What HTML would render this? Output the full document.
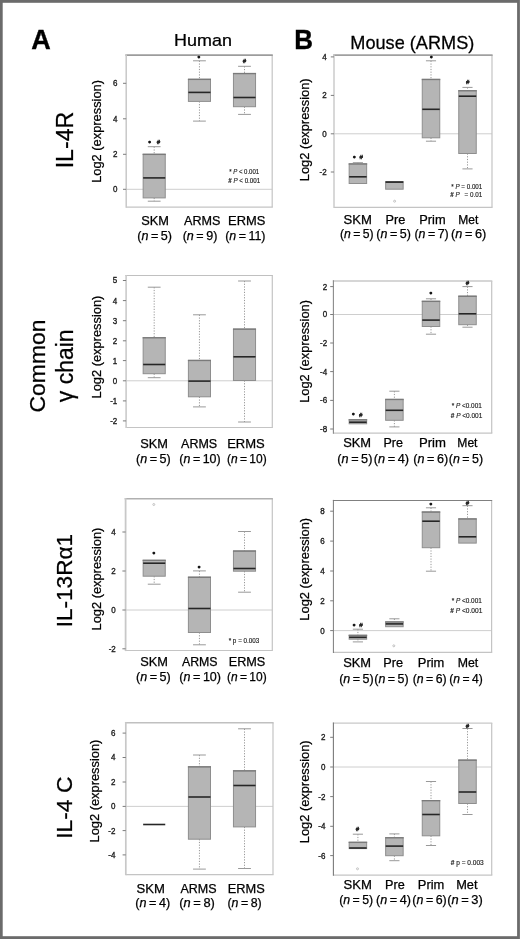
<!DOCTYPE html>
<html><head><meta charset="utf-8"><title>Figure</title>
<style>html,body{margin:0;padding:0;background:#fff;}svg{display:block;}</style>
</head><body>
<svg width="520" height="939" viewBox="0 0 520 939" font-family='"Liberation Sans", Arial, sans-serif'>
<rect x="0" y="0" width="520" height="939" fill="#fff"/>
<line x1="126.2" y1="189.3" x2="272.2" y2="189.3" stroke="#c8c8c8" stroke-width="0.9"/>
<line x1="272.2" y1="55.1" x2="272.2" y2="207.2" stroke="#c4c4c4" stroke-width="1.2"/>
<line x1="126.2" y1="207.2" x2="272.8" y2="207.2" stroke="#c4c4c4" stroke-width="1.2"/>
<line x1="125.45" y1="55.1" x2="272.8" y2="55.1" stroke="#9c9c9c" stroke-width="1.7"/>
<line x1="126.2" y1="54.25" x2="126.2" y2="207.79999999999998" stroke="#c8c8c8" stroke-width="1.5"/>
<line x1="123.0" y1="83.3" x2="126.2" y2="83.3" stroke="#7c7c7c" stroke-width="1.0"/>
<text transform="translate(117.4,86.20) scale(1,1.12)" font-size="8.0" text-anchor="end" fill="#1a1a1a" stroke="#1a1a1a" stroke-width="0.32">6</text>
<line x1="123.0" y1="118.8" x2="126.2" y2="118.8" stroke="#7c7c7c" stroke-width="1.0"/>
<text transform="translate(117.4,121.70) scale(1,1.12)" font-size="8.0" text-anchor="end" fill="#1a1a1a" stroke="#1a1a1a" stroke-width="0.32">4</text>
<line x1="123.0" y1="154.3" x2="126.2" y2="154.3" stroke="#7c7c7c" stroke-width="1.0"/>
<text transform="translate(117.4,157.20) scale(1,1.12)" font-size="8.0" text-anchor="end" fill="#1a1a1a" stroke="#1a1a1a" stroke-width="0.32">2</text>
<line x1="123.0" y1="189.3" x2="126.2" y2="189.3" stroke="#7c7c7c" stroke-width="1.0"/>
<text transform="translate(117.4,192.20) scale(1,1.12)" font-size="8.0" text-anchor="end" fill="#1a1a1a" stroke="#1a1a1a" stroke-width="0.32">0</text>
<line x1="154.2" y1="146.7" x2="154.2" y2="154.2" stroke="#8c8c8c" stroke-width="0.9" stroke-dasharray="1.2 1.5"/>
<line x1="147.791" y1="146.7" x2="160.60899999999998" y2="146.7" stroke="#999" stroke-width="1.0"/>
<line x1="154.2" y1="197.9" x2="154.2" y2="201.2" stroke="#8c8c8c" stroke-width="0.9" stroke-dasharray="1.2 1.5"/>
<line x1="147.791" y1="201.2" x2="160.60899999999998" y2="201.2" stroke="#999" stroke-width="1.0"/>
<rect x="143.14999999999998" y="154.2" width="22.1" height="43.70000000000002" fill="#b5b5b5" stroke="#8e8e8e" stroke-width="1"/>
<line x1="142.64999999999998" y1="154.39999999999998" x2="165.74999999999997" y2="154.39999999999998" stroke="#7a7a7a" stroke-width="1.3"/>
<line x1="143.14999999999998" y1="177.9" x2="165.24999999999997" y2="177.9" stroke="#262626" stroke-width="1.6"/>
<text x="149.6" y="144.89999999999998" font-size="5.6" text-anchor="middle" font-weight="bold" fill="#111" stroke="#111" stroke-width="0.7">*</text>
<text x="158.5" y="144.2" font-size="6.2" text-anchor="middle" font-weight="bold" fill="#222" stroke="#222" stroke-width="0.35">#</text>
<line x1="199.45" y1="60.8" x2="199.45" y2="79.2" stroke="#8c8c8c" stroke-width="0.9" stroke-dasharray="1.2 1.5"/>
<line x1="193.041" y1="60.8" x2="205.85899999999998" y2="60.8" stroke="#999" stroke-width="1.0"/>
<line x1="199.45" y1="101.4" x2="199.45" y2="121.1" stroke="#8c8c8c" stroke-width="0.9" stroke-dasharray="1.2 1.5"/>
<line x1="193.041" y1="121.1" x2="205.85899999999998" y2="121.1" stroke="#999" stroke-width="1.0"/>
<rect x="188.39999999999998" y="79.2" width="22.1" height="22.200000000000003" fill="#b5b5b5" stroke="#8e8e8e" stroke-width="1"/>
<line x1="187.89999999999998" y1="79.4" x2="210.99999999999997" y2="79.4" stroke="#7a7a7a" stroke-width="1.3"/>
<line x1="188.39999999999998" y1="92.4" x2="210.49999999999997" y2="92.4" stroke="#262626" stroke-width="1.6"/>
<text x="198.9" y="60.300000000000004" font-size="5.6" text-anchor="middle" font-weight="bold" fill="#111" stroke="#111" stroke-width="0.7">*</text>
<line x1="244.5" y1="66.3" x2="244.5" y2="73.4" stroke="#8c8c8c" stroke-width="0.9" stroke-dasharray="1.2 1.5"/>
<line x1="238.091" y1="66.3" x2="250.909" y2="66.3" stroke="#999" stroke-width="1.0"/>
<line x1="244.5" y1="106.7" x2="244.5" y2="114.4" stroke="#8c8c8c" stroke-width="0.9" stroke-dasharray="1.2 1.5"/>
<line x1="238.091" y1="114.4" x2="250.909" y2="114.4" stroke="#999" stroke-width="1.0"/>
<rect x="233.45" y="73.4" width="22.1" height="33.3" fill="#b5b5b5" stroke="#8e8e8e" stroke-width="1"/>
<line x1="232.95" y1="73.60000000000001" x2="256.04999999999995" y2="73.60000000000001" stroke="#7a7a7a" stroke-width="1.3"/>
<line x1="233.45" y1="97.5" x2="255.54999999999998" y2="97.5" stroke="#262626" stroke-width="1.6"/>
<text x="244.4" y="63.1" font-size="6.2" text-anchor="middle" font-weight="bold" fill="#222" stroke="#222" stroke-width="0.35">#</text>
<text x="141.16" y="224.8" font-size="12.4" textLength="27.73" lengthAdjust="spacingAndGlyphs" stroke="#000" stroke-width="0.25">SKM</text>
<text x="184.10" y="224.8" font-size="12.4" textLength="36.42" lengthAdjust="spacingAndGlyphs" stroke="#000" stroke-width="0.25">ARMS</text>
<text x="228.07" y="224.8" font-size="12.4" textLength="37.27" lengthAdjust="spacingAndGlyphs" stroke="#000" stroke-width="0.25">ERMS</text>
<text x="137.25" y="240.10000000000002" font-size="12.4" textLength="34.75" lengthAdjust="spacingAndGlyphs" stroke="#000" stroke-width="0.25">(<tspan font-style="italic">n</tspan> = 5)</text>
<text x="182.65" y="240.10000000000002" font-size="12.4" textLength="34.75" lengthAdjust="spacingAndGlyphs" stroke="#000" stroke-width="0.25">(<tspan font-style="italic">n</tspan> = 9)</text>
<text x="225.15" y="240.10000000000002" font-size="12.4" textLength="40.35" lengthAdjust="spacingAndGlyphs" stroke="#000" stroke-width="0.25">(<tspan font-style="italic">n</tspan> = 11)</text>
<text x="229.18" y="173.6" font-size="6.4" textLength="30.00" lengthAdjust="spacingAndGlyphs" fill="#222" stroke="#222" stroke-width="0.15">* <tspan font-style="italic">P</tspan> &lt; 0.001</text>
<text x="228.18" y="182.6" font-size="6.4" textLength="32.06" lengthAdjust="spacingAndGlyphs" fill="#222" stroke="#222" stroke-width="0.15"><tspan font-weight="bold">#</tspan> <tspan font-style="italic">P</tspan> &lt; 0.001</text>
<line x1="334.0" y1="133.8" x2="492.0" y2="133.8" stroke="#c8c8c8" stroke-width="0.9"/>
<line x1="492.0" y1="55.1" x2="492.0" y2="207.3" stroke="#c4c4c4" stroke-width="1.2"/>
<line x1="334.0" y1="207.3" x2="492.6" y2="207.3" stroke="#c4c4c4" stroke-width="1.2"/>
<line x1="333.3" y1="55.1" x2="492.6" y2="55.1" stroke="#a0a0a0" stroke-width="1.7"/>
<line x1="334.0" y1="54.25" x2="334.0" y2="207.9" stroke="#c8c8c8" stroke-width="1.4"/>
<line x1="330.8" y1="56.9" x2="334.0" y2="56.9" stroke="#7c7c7c" stroke-width="1.0"/>
<text transform="translate(326.6,59.80) scale(1,1.12)" font-size="8.0" text-anchor="end" fill="#1a1a1a" stroke="#1a1a1a" stroke-width="0.32">4</text>
<line x1="330.8" y1="95.4" x2="334.0" y2="95.4" stroke="#7c7c7c" stroke-width="1.0"/>
<text transform="translate(326.6,98.30) scale(1,1.12)" font-size="8.0" text-anchor="end" fill="#1a1a1a" stroke="#1a1a1a" stroke-width="0.32">2</text>
<line x1="330.8" y1="133.8" x2="334.0" y2="133.8" stroke="#7c7c7c" stroke-width="1.0"/>
<text transform="translate(326.6,136.70) scale(1,1.12)" font-size="8.0" text-anchor="end" fill="#1a1a1a" stroke="#1a1a1a" stroke-width="0.32">0</text>
<line x1="330.8" y1="172.0" x2="334.0" y2="172.0" stroke="#7c7c7c" stroke-width="1.0"/>
<text transform="translate(326.6,174.90) scale(1,1.12)" font-size="8.0" text-anchor="end" fill="#1a1a1a" stroke="#1a1a1a" stroke-width="0.32">-2</text>
<line x1="357.9" y1="162.7" x2="357.9" y2="163.8" stroke="#8c8c8c" stroke-width="0.9" stroke-dasharray="1.2 1.5"/>
<line x1="352.825" y1="162.7" x2="362.97499999999997" y2="162.7" stroke="#999" stroke-width="1.0"/>
<rect x="349.15" y="163.8" width="17.5" height="19.69999999999999" fill="#b5b5b5" stroke="#8e8e8e" stroke-width="1"/>
<line x1="348.65" y1="164.0" x2="367.15" y2="164.0" stroke="#7a7a7a" stroke-width="1.3"/>
<line x1="349.15" y1="176.8" x2="366.65" y2="176.8" stroke="#262626" stroke-width="1.6"/>
<text x="354.3" y="159.6" font-size="5.6" text-anchor="middle" font-weight="bold" fill="#111" stroke="#111" stroke-width="0.7">*</text>
<text x="361.2" y="158.9" font-size="6.2" text-anchor="middle" font-weight="bold" fill="#222" stroke="#222" stroke-width="0.35">#</text>
<rect x="385.65" y="181.8" width="17.5" height="7.399999999999977" fill="#b5b5b5" stroke="#8e8e8e" stroke-width="1"/>
<line x1="385.15" y1="182.0" x2="403.65" y2="182.0" stroke="#7a7a7a" stroke-width="1.3"/>
<line x1="385.65" y1="182.1" x2="403.15" y2="182.1" stroke="#262626" stroke-width="1.6"/>
<circle cx="394.6" cy="201.2" r="1.0" fill="none" stroke="#a0a0a0" stroke-width="0.6"/>
<line x1="431.0" y1="60.8" x2="431.0" y2="79.3" stroke="#8c8c8c" stroke-width="0.9" stroke-dasharray="1.2 1.5"/>
<line x1="425.925" y1="60.8" x2="436.075" y2="60.8" stroke="#999" stroke-width="1.0"/>
<line x1="431.0" y1="137.8" x2="431.0" y2="141.2" stroke="#8c8c8c" stroke-width="0.9" stroke-dasharray="1.2 1.5"/>
<line x1="425.925" y1="141.2" x2="436.075" y2="141.2" stroke="#999" stroke-width="1.0"/>
<rect x="422.25" y="79.3" width="17.5" height="58.500000000000014" fill="#b5b5b5" stroke="#8e8e8e" stroke-width="1"/>
<line x1="421.75" y1="79.5" x2="440.25" y2="79.5" stroke="#7a7a7a" stroke-width="1.3"/>
<line x1="422.25" y1="109.3" x2="439.75" y2="109.3" stroke="#262626" stroke-width="1.6"/>
<text x="431.3" y="59.6" font-size="5.6" text-anchor="middle" font-weight="bold" fill="#111" stroke="#111" stroke-width="0.7">*</text>
<line x1="467.5" y1="87.4" x2="467.5" y2="90.6" stroke="#8c8c8c" stroke-width="0.9" stroke-dasharray="1.2 1.5"/>
<line x1="462.425" y1="87.4" x2="472.575" y2="87.4" stroke="#999" stroke-width="1.0"/>
<line x1="467.5" y1="153.5" x2="467.5" y2="168.9" stroke="#8c8c8c" stroke-width="0.9" stroke-dasharray="1.2 1.5"/>
<line x1="462.425" y1="168.9" x2="472.575" y2="168.9" stroke="#999" stroke-width="1.0"/>
<rect x="458.75" y="90.6" width="17.5" height="62.900000000000006" fill="#b5b5b5" stroke="#8e8e8e" stroke-width="1"/>
<line x1="458.25" y1="90.8" x2="476.75" y2="90.8" stroke="#7a7a7a" stroke-width="1.3"/>
<line x1="458.75" y1="96.2" x2="476.25" y2="96.2" stroke="#262626" stroke-width="1.6"/>
<text x="467.7" y="84.3" font-size="6.2" text-anchor="middle" font-weight="bold" fill="#222" stroke="#222" stroke-width="0.35">#</text>
<text x="343.55" y="223.5" font-size="12.4" textLength="28.36" lengthAdjust="spacingAndGlyphs" stroke="#000" stroke-width="0.25">SKM</text>
<text x="385.48" y="223.5" font-size="12.4" textLength="19.81" lengthAdjust="spacingAndGlyphs" stroke="#000" stroke-width="0.25">Pre</text>
<text x="419.27" y="223.5" font-size="12.4" textLength="26.36" lengthAdjust="spacingAndGlyphs" stroke="#000" stroke-width="0.25">Prim</text>
<text x="458.24" y="223.5" font-size="12.4" textLength="20.05" lengthAdjust="spacingAndGlyphs" stroke="#000" stroke-width="0.25">Met</text>
<text x="339.97" y="238.3" font-size="12.4" textLength="33.70" lengthAdjust="spacingAndGlyphs" stroke="#000" stroke-width="0.25">(<tspan font-style="italic">n</tspan> = 5)</text>
<text x="376.35" y="238.3" font-size="12.4" textLength="34.54" lengthAdjust="spacingAndGlyphs" stroke="#000" stroke-width="0.25">(<tspan font-style="italic">n</tspan> = 5)</text>
<text x="414.46" y="238.3" font-size="12.4" textLength="34.22" lengthAdjust="spacingAndGlyphs" stroke="#000" stroke-width="0.25">(<tspan font-style="italic">n</tspan> = 7)</text>
<text x="451.04" y="238.3" font-size="12.4" textLength="35.17" lengthAdjust="spacingAndGlyphs" stroke="#000" stroke-width="0.25">(<tspan font-style="italic">n</tspan> = 6)</text>
<text x="451.28" y="189.4" font-size="6.4" textLength="31.01" lengthAdjust="spacingAndGlyphs" fill="#222" stroke="#222" stroke-width="0.15">* <tspan font-style="italic">P</tspan> = 0.001</text>
<text x="450.27" y="196.6" font-size="6.4" textLength="32.02" lengthAdjust="spacingAndGlyphs" fill="#222" stroke="#222" stroke-width="0.15"><tspan font-weight="bold">#</tspan> <tspan font-style="italic">P</tspan>  = 0.01</text>
<line x1="126.1" y1="380.8" x2="272.3" y2="380.8" stroke="#c8c8c8" stroke-width="0.9"/>
<line x1="272.3" y1="275.5" x2="272.3" y2="427.5" stroke="#c4c4c4" stroke-width="1.2"/>
<line x1="126.1" y1="427.5" x2="272.90000000000003" y2="427.5" stroke="#c4c4c4" stroke-width="1.2"/>
<line x1="125.3" y1="275.5" x2="272.90000000000003" y2="275.5" stroke="#c0c0c0" stroke-width="1.2"/>
<line x1="126.1" y1="274.9" x2="126.1" y2="428.1" stroke="#cacaca" stroke-width="1.6"/>
<line x1="122.89999999999999" y1="280.5" x2="126.1" y2="280.5" stroke="#7c7c7c" stroke-width="1.0"/>
<text transform="translate(117.3,283.40) scale(1,1.12)" font-size="8.0" text-anchor="end" fill="#1a1a1a" stroke="#1a1a1a" stroke-width="0.32">5</text>
<line x1="122.89999999999999" y1="300.6" x2="126.1" y2="300.6" stroke="#7c7c7c" stroke-width="1.0"/>
<text transform="translate(117.3,303.50) scale(1,1.12)" font-size="8.0" text-anchor="end" fill="#1a1a1a" stroke="#1a1a1a" stroke-width="0.32">4</text>
<line x1="122.89999999999999" y1="320.7" x2="126.1" y2="320.7" stroke="#7c7c7c" stroke-width="1.0"/>
<text transform="translate(117.3,323.60) scale(1,1.12)" font-size="8.0" text-anchor="end" fill="#1a1a1a" stroke="#1a1a1a" stroke-width="0.32">3</text>
<line x1="122.89999999999999" y1="340.8" x2="126.1" y2="340.8" stroke="#7c7c7c" stroke-width="1.0"/>
<text transform="translate(117.3,343.70) scale(1,1.12)" font-size="8.0" text-anchor="end" fill="#1a1a1a" stroke="#1a1a1a" stroke-width="0.32">2</text>
<line x1="122.89999999999999" y1="360.6" x2="126.1" y2="360.6" stroke="#7c7c7c" stroke-width="1.0"/>
<text transform="translate(117.3,363.50) scale(1,1.12)" font-size="8.0" text-anchor="end" fill="#1a1a1a" stroke="#1a1a1a" stroke-width="0.32">1</text>
<line x1="122.89999999999999" y1="380.8" x2="126.1" y2="380.8" stroke="#7c7c7c" stroke-width="1.0"/>
<text transform="translate(117.3,383.70) scale(1,1.12)" font-size="8.0" text-anchor="end" fill="#1a1a1a" stroke="#1a1a1a" stroke-width="0.32">0</text>
<line x1="122.89999999999999" y1="400.9" x2="126.1" y2="400.9" stroke="#7c7c7c" stroke-width="1.0"/>
<text transform="translate(117.3,403.80) scale(1,1.12)" font-size="8.0" text-anchor="end" fill="#1a1a1a" stroke="#1a1a1a" stroke-width="0.32">-1</text>
<line x1="122.89999999999999" y1="420.9" x2="126.1" y2="420.9" stroke="#7c7c7c" stroke-width="1.0"/>
<text transform="translate(117.3,423.80) scale(1,1.12)" font-size="8.0" text-anchor="end" fill="#1a1a1a" stroke="#1a1a1a" stroke-width="0.32">-2</text>
<line x1="154.2" y1="287.2" x2="154.2" y2="337.6" stroke="#8c8c8c" stroke-width="0.9" stroke-dasharray="1.2 1.5"/>
<line x1="147.791" y1="287.2" x2="160.60899999999998" y2="287.2" stroke="#999" stroke-width="1.0"/>
<line x1="154.2" y1="373.7" x2="154.2" y2="377.7" stroke="#8c8c8c" stroke-width="0.9" stroke-dasharray="1.2 1.5"/>
<line x1="147.791" y1="377.7" x2="160.60899999999998" y2="377.7" stroke="#999" stroke-width="1.0"/>
<rect x="143.14999999999998" y="337.6" width="22.1" height="36.099999999999966" fill="#b5b5b5" stroke="#8e8e8e" stroke-width="1"/>
<line x1="142.64999999999998" y1="337.8" x2="165.74999999999997" y2="337.8" stroke="#7a7a7a" stroke-width="1.3"/>
<line x1="143.14999999999998" y1="364.5" x2="165.24999999999997" y2="364.5" stroke="#262626" stroke-width="1.6"/>
<line x1="199.45" y1="314.8" x2="199.45" y2="360.3" stroke="#8c8c8c" stroke-width="0.9" stroke-dasharray="1.2 1.5"/>
<line x1="193.041" y1="314.8" x2="205.85899999999998" y2="314.8" stroke="#999" stroke-width="1.0"/>
<line x1="199.45" y1="396.8" x2="199.45" y2="406.9" stroke="#8c8c8c" stroke-width="0.9" stroke-dasharray="1.2 1.5"/>
<line x1="193.041" y1="406.9" x2="205.85899999999998" y2="406.9" stroke="#999" stroke-width="1.0"/>
<rect x="188.39999999999998" y="360.3" width="22.1" height="36.5" fill="#b5b5b5" stroke="#8e8e8e" stroke-width="1"/>
<line x1="187.89999999999998" y1="360.5" x2="210.99999999999997" y2="360.5" stroke="#7a7a7a" stroke-width="1.3"/>
<line x1="188.39999999999998" y1="381.1" x2="210.49999999999997" y2="381.1" stroke="#262626" stroke-width="1.6"/>
<line x1="244.5" y1="281.0" x2="244.5" y2="329.0" stroke="#8c8c8c" stroke-width="0.9" stroke-dasharray="1.2 1.5"/>
<line x1="238.091" y1="281.0" x2="250.909" y2="281.0" stroke="#999" stroke-width="1.0"/>
<line x1="244.5" y1="380.5" x2="244.5" y2="422.0" stroke="#8c8c8c" stroke-width="0.9" stroke-dasharray="1.2 1.5"/>
<line x1="238.091" y1="422.0" x2="250.909" y2="422.0" stroke="#999" stroke-width="1.0"/>
<rect x="233.45" y="329.0" width="22.1" height="51.5" fill="#b5b5b5" stroke="#8e8e8e" stroke-width="1"/>
<line x1="232.95" y1="329.2" x2="256.04999999999995" y2="329.2" stroke="#7a7a7a" stroke-width="1.3"/>
<line x1="233.45" y1="356.8" x2="255.54999999999998" y2="356.8" stroke="#262626" stroke-width="1.6"/>
<text x="140.16" y="447.8" font-size="12.4" textLength="27.73" lengthAdjust="spacingAndGlyphs" stroke="#000" stroke-width="0.25">SKM</text>
<text x="181.10" y="447.8" font-size="12.4" textLength="36.12" lengthAdjust="spacingAndGlyphs" stroke="#000" stroke-width="0.25">ARMS</text>
<text x="227.16" y="447.8" font-size="12.4" textLength="37.58" lengthAdjust="spacingAndGlyphs" stroke="#000" stroke-width="0.25">ERMS</text>
<text x="136.05" y="463.0" font-size="12.4" textLength="34.75" lengthAdjust="spacingAndGlyphs" stroke="#000" stroke-width="0.25">(<tspan font-style="italic">n</tspan> = 5)</text>
<text x="179.35" y="463.0" font-size="12.4" textLength="41.28" lengthAdjust="spacingAndGlyphs" stroke="#000" stroke-width="0.25">(<tspan font-style="italic">n</tspan> = 10)</text>
<text x="226.88" y="463.0" font-size="12.4" textLength="39.83" lengthAdjust="spacingAndGlyphs" stroke="#000" stroke-width="0.25">(<tspan font-style="italic">n</tspan> = 10)</text>
<line x1="333.4" y1="314.5" x2="491.7" y2="314.5" stroke="#c8c8c8" stroke-width="0.9"/>
<line x1="491.7" y1="281.0" x2="491.7" y2="433.2" stroke="#c4c4c4" stroke-width="1.2"/>
<line x1="333.4" y1="433.2" x2="492.3" y2="433.2" stroke="#c4c4c4" stroke-width="1.2"/>
<line x1="332.84999999999997" y1="281.0" x2="492.3" y2="281.0" stroke="#c8c8c8" stroke-width="1.3"/>
<line x1="333.4" y1="280.35" x2="333.4" y2="433.8" stroke="#8a8a8a" stroke-width="1.1"/>
<line x1="330.2" y1="286.6" x2="333.4" y2="286.6" stroke="#7c7c7c" stroke-width="1.0"/>
<text transform="translate(327.2,289.50) scale(1,1.12)" font-size="8.0" text-anchor="end" fill="#1a1a1a" stroke="#1a1a1a" stroke-width="0.32">2</text>
<line x1="330.2" y1="314.5" x2="333.4" y2="314.5" stroke="#7c7c7c" stroke-width="1.0"/>
<text transform="translate(327.2,317.40) scale(1,1.12)" font-size="8.0" text-anchor="end" fill="#1a1a1a" stroke="#1a1a1a" stroke-width="0.32">0</text>
<line x1="330.2" y1="343.0" x2="333.4" y2="343.0" stroke="#7c7c7c" stroke-width="1.0"/>
<text transform="translate(327.2,345.90) scale(1,1.12)" font-size="8.0" text-anchor="end" fill="#1a1a1a" stroke="#1a1a1a" stroke-width="0.32">-2</text>
<line x1="330.2" y1="371.6" x2="333.4" y2="371.6" stroke="#7c7c7c" stroke-width="1.0"/>
<text transform="translate(327.2,374.50) scale(1,1.12)" font-size="8.0" text-anchor="end" fill="#1a1a1a" stroke="#1a1a1a" stroke-width="0.32">-4</text>
<line x1="330.2" y1="400.4" x2="333.4" y2="400.4" stroke="#7c7c7c" stroke-width="1.0"/>
<text transform="translate(327.2,403.30) scale(1,1.12)" font-size="8.0" text-anchor="end" fill="#1a1a1a" stroke="#1a1a1a" stroke-width="0.32">-6</text>
<line x1="330.2" y1="429.0" x2="333.4" y2="429.0" stroke="#7c7c7c" stroke-width="1.0"/>
<text transform="translate(327.2,431.90) scale(1,1.12)" font-size="8.0" text-anchor="end" fill="#1a1a1a" stroke="#1a1a1a" stroke-width="0.32">-8</text>
<rect x="349.15" y="419.6" width="17.5" height="4.199999999999989" fill="#b5b5b5" stroke="#8e8e8e" stroke-width="1"/>
<line x1="348.65" y1="419.8" x2="367.15" y2="419.8" stroke="#7a7a7a" stroke-width="1.3"/>
<line x1="349.15" y1="422.2" x2="366.65" y2="422.2" stroke="#262626" stroke-width="1.6"/>
<text x="353.4" y="417.2" font-size="5.6" text-anchor="middle" font-weight="bold" fill="#111" stroke="#111" stroke-width="0.7">*</text>
<text x="360.8" y="416.5" font-size="6.2" text-anchor="middle" font-weight="bold" fill="#222" stroke="#222" stroke-width="0.35">#</text>
<line x1="394.4" y1="391.2" x2="394.4" y2="399.3" stroke="#8c8c8c" stroke-width="0.9" stroke-dasharray="1.2 1.5"/>
<line x1="389.325" y1="391.2" x2="399.47499999999997" y2="391.2" stroke="#999" stroke-width="1.0"/>
<line x1="394.4" y1="420.3" x2="394.4" y2="426.9" stroke="#8c8c8c" stroke-width="0.9" stroke-dasharray="1.2 1.5"/>
<line x1="389.325" y1="426.9" x2="399.47499999999997" y2="426.9" stroke="#999" stroke-width="1.0"/>
<rect x="385.65" y="399.3" width="17.5" height="21.0" fill="#b5b5b5" stroke="#8e8e8e" stroke-width="1"/>
<line x1="385.15" y1="399.5" x2="403.65" y2="399.5" stroke="#7a7a7a" stroke-width="1.3"/>
<line x1="385.65" y1="410.3" x2="403.15" y2="410.3" stroke="#262626" stroke-width="1.6"/>
<line x1="431.0" y1="298.8" x2="431.0" y2="301.2" stroke="#8c8c8c" stroke-width="0.9" stroke-dasharray="1.2 1.5"/>
<line x1="425.925" y1="298.8" x2="436.075" y2="298.8" stroke="#999" stroke-width="1.0"/>
<line x1="431.0" y1="326.5" x2="431.0" y2="334.2" stroke="#8c8c8c" stroke-width="0.9" stroke-dasharray="1.2 1.5"/>
<line x1="425.925" y1="334.2" x2="436.075" y2="334.2" stroke="#999" stroke-width="1.0"/>
<rect x="422.25" y="301.2" width="17.5" height="25.30000000000001" fill="#b5b5b5" stroke="#8e8e8e" stroke-width="1"/>
<line x1="421.75" y1="301.4" x2="440.25" y2="301.4" stroke="#7a7a7a" stroke-width="1.3"/>
<line x1="422.25" y1="320.1" x2="439.75" y2="320.1" stroke="#262626" stroke-width="1.6"/>
<text x="430.8" y="296.2" font-size="5.6" text-anchor="middle" font-weight="bold" fill="#111" stroke="#111" stroke-width="0.7">*</text>
<line x1="467.5" y1="286.6" x2="467.5" y2="296.1" stroke="#8c8c8c" stroke-width="0.9" stroke-dasharray="1.2 1.5"/>
<line x1="462.425" y1="286.6" x2="472.575" y2="286.6" stroke="#999" stroke-width="1.0"/>
<line x1="467.5" y1="324.7" x2="467.5" y2="327.2" stroke="#8c8c8c" stroke-width="0.9" stroke-dasharray="1.2 1.5"/>
<line x1="462.425" y1="327.2" x2="472.575" y2="327.2" stroke="#999" stroke-width="1.0"/>
<rect x="458.75" y="296.1" width="17.5" height="28.599999999999966" fill="#b5b5b5" stroke="#8e8e8e" stroke-width="1"/>
<line x1="458.25" y1="296.3" x2="476.75" y2="296.3" stroke="#7a7a7a" stroke-width="1.3"/>
<line x1="458.75" y1="313.8" x2="476.25" y2="313.8" stroke="#262626" stroke-width="1.6"/>
<text x="467.5" y="285.2" font-size="6.2" text-anchor="middle" font-weight="bold" fill="#222" stroke="#222" stroke-width="0.35">#</text>
<text x="343.16" y="447.3" font-size="12.4" textLength="27.94" lengthAdjust="spacingAndGlyphs" stroke="#000" stroke-width="0.25">SKM</text>
<text x="383.50" y="447.3" font-size="12.4" textLength="19.48" lengthAdjust="spacingAndGlyphs" stroke="#000" stroke-width="0.25">Pre</text>
<text x="418.95" y="447.3" font-size="12.4" textLength="27.01" lengthAdjust="spacingAndGlyphs" stroke="#000" stroke-width="0.25">Prim</text>
<text x="457.33" y="447.3" font-size="12.4" textLength="20.15" lengthAdjust="spacingAndGlyphs" stroke="#000" stroke-width="0.25">Met</text>
<text x="337.34" y="462.8" font-size="12.4" textLength="35.06" lengthAdjust="spacingAndGlyphs" stroke="#000" stroke-width="0.25">(<tspan font-style="italic">n</tspan> = 5)</text>
<text x="373.73" y="462.8" font-size="12.4" textLength="35.27" lengthAdjust="spacingAndGlyphs" stroke="#000" stroke-width="0.25">(<tspan font-style="italic">n</tspan> = 4)</text>
<text x="413.34" y="462.8" font-size="12.4" textLength="34.85" lengthAdjust="spacingAndGlyphs" stroke="#000" stroke-width="0.25">(<tspan font-style="italic">n</tspan> = 6)</text>
<text x="448.75" y="462.8" font-size="12.4" textLength="34.33" lengthAdjust="spacingAndGlyphs" stroke="#000" stroke-width="0.25">(<tspan font-style="italic">n</tspan> = 5)</text>
<text x="451.67" y="407.9" font-size="6.4" textLength="30.14" lengthAdjust="spacingAndGlyphs" fill="#222" stroke="#222" stroke-width="0.15">* <tspan font-style="italic">P</tspan> &lt;0.001</text>
<text x="450.77" y="417.5" font-size="6.4" textLength="31.53" lengthAdjust="spacingAndGlyphs" fill="#222" stroke="#222" stroke-width="0.15"><tspan font-weight="bold">#</tspan> <tspan font-style="italic">P</tspan> &lt;0.001</text>
<line x1="125.6" y1="610.0" x2="272.3" y2="610.0" stroke="#c8c8c8" stroke-width="0.9"/>
<line x1="272.3" y1="498.7" x2="272.3" y2="650.5" stroke="#c4c4c4" stroke-width="1.2"/>
<line x1="125.6" y1="650.5" x2="272.90000000000003" y2="650.5" stroke="#c4c4c4" stroke-width="1.2"/>
<line x1="124.69999999999999" y1="498.7" x2="272.90000000000003" y2="498.7" stroke="#b0b0b0" stroke-width="1.4"/>
<line x1="125.6" y1="498.0" x2="125.6" y2="651.1" stroke="#c8c8c8" stroke-width="1.8"/>
<line x1="122.39999999999999" y1="532.0" x2="125.6" y2="532.0" stroke="#7c7c7c" stroke-width="1.0"/>
<text transform="translate(115.8,534.90) scale(1,1.12)" font-size="8.0" text-anchor="end" fill="#1a1a1a" stroke="#1a1a1a" stroke-width="0.32">4</text>
<line x1="122.39999999999999" y1="571.0" x2="125.6" y2="571.0" stroke="#7c7c7c" stroke-width="1.0"/>
<text transform="translate(115.8,573.90) scale(1,1.12)" font-size="8.0" text-anchor="end" fill="#1a1a1a" stroke="#1a1a1a" stroke-width="0.32">2</text>
<line x1="122.39999999999999" y1="610.0" x2="125.6" y2="610.0" stroke="#7c7c7c" stroke-width="1.0"/>
<text transform="translate(115.8,612.90) scale(1,1.12)" font-size="8.0" text-anchor="end" fill="#1a1a1a" stroke="#1a1a1a" stroke-width="0.32">0</text>
<line x1="122.39999999999999" y1="648.8" x2="125.6" y2="648.8" stroke="#7c7c7c" stroke-width="1.0"/>
<text transform="translate(115.8,651.70) scale(1,1.12)" font-size="8.0" text-anchor="end" fill="#1a1a1a" stroke="#1a1a1a" stroke-width="0.32">-2</text>
<line x1="154.2" y1="576.2" x2="154.2" y2="584.2" stroke="#8c8c8c" stroke-width="0.9" stroke-dasharray="1.2 1.5"/>
<line x1="147.791" y1="584.2" x2="160.60899999999998" y2="584.2" stroke="#999" stroke-width="1.0"/>
<rect x="143.14999999999998" y="560.2" width="22.1" height="16.0" fill="#b5b5b5" stroke="#8e8e8e" stroke-width="1"/>
<line x1="142.64999999999998" y1="560.4000000000001" x2="165.74999999999997" y2="560.4000000000001" stroke="#7a7a7a" stroke-width="1.3"/>
<line x1="143.14999999999998" y1="563.2" x2="165.24999999999997" y2="563.2" stroke="#262626" stroke-width="1.6"/>
<circle cx="153.8" cy="504.5" r="1.0" fill="none" stroke="#a0a0a0" stroke-width="0.6"/>
<text x="153.9" y="556.4000000000001" font-size="5.6" text-anchor="middle" font-weight="bold" fill="#111" stroke="#111" stroke-width="0.7">*</text>
<line x1="199.45" y1="570.9" x2="199.45" y2="577.1" stroke="#8c8c8c" stroke-width="0.9" stroke-dasharray="1.2 1.5"/>
<line x1="193.041" y1="570.9" x2="205.85899999999998" y2="570.9" stroke="#999" stroke-width="1.0"/>
<line x1="199.45" y1="632.5" x2="199.45" y2="644.8" stroke="#8c8c8c" stroke-width="0.9" stroke-dasharray="1.2 1.5"/>
<line x1="193.041" y1="644.8" x2="205.85899999999998" y2="644.8" stroke="#999" stroke-width="1.0"/>
<rect x="188.39999999999998" y="577.1" width="22.1" height="55.39999999999998" fill="#b5b5b5" stroke="#8e8e8e" stroke-width="1"/>
<line x1="187.89999999999998" y1="577.3000000000001" x2="210.99999999999997" y2="577.3000000000001" stroke="#7a7a7a" stroke-width="1.3"/>
<line x1="188.39999999999998" y1="608.5" x2="210.49999999999997" y2="608.5" stroke="#262626" stroke-width="1.6"/>
<text x="199.2" y="569.6" font-size="5.6" text-anchor="middle" font-weight="bold" fill="#111" stroke="#111" stroke-width="0.7">*</text>
<line x1="244.5" y1="531.5" x2="244.5" y2="550.9" stroke="#8c8c8c" stroke-width="0.9" stroke-dasharray="1.2 1.5"/>
<line x1="238.091" y1="531.5" x2="250.909" y2="531.5" stroke="#999" stroke-width="1.0"/>
<line x1="244.5" y1="571.2" x2="244.5" y2="592.2" stroke="#8c8c8c" stroke-width="0.9" stroke-dasharray="1.2 1.5"/>
<line x1="238.091" y1="592.2" x2="250.909" y2="592.2" stroke="#999" stroke-width="1.0"/>
<rect x="233.45" y="550.9" width="22.1" height="20.300000000000068" fill="#b5b5b5" stroke="#8e8e8e" stroke-width="1"/>
<line x1="232.95" y1="551.1" x2="256.04999999999995" y2="551.1" stroke="#7a7a7a" stroke-width="1.3"/>
<line x1="233.45" y1="568.5" x2="255.54999999999998" y2="568.5" stroke="#262626" stroke-width="1.6"/>
<text x="140.16" y="666.3" font-size="12.4" textLength="27.73" lengthAdjust="spacingAndGlyphs" stroke="#000" stroke-width="0.25">SKM</text>
<text x="181.90" y="666.3" font-size="12.4" textLength="35.71" lengthAdjust="spacingAndGlyphs" stroke="#000" stroke-width="0.25">ARMS</text>
<text x="228.69" y="666.3" font-size="12.4" textLength="36.64" lengthAdjust="spacingAndGlyphs" stroke="#000" stroke-width="0.25">ERMS</text>
<text x="136.05" y="681.4" font-size="12.4" textLength="34.75" lengthAdjust="spacingAndGlyphs" stroke="#000" stroke-width="0.25">(<tspan font-style="italic">n</tspan> = 5)</text>
<text x="179.35" y="681.4" font-size="12.4" textLength="41.70" lengthAdjust="spacingAndGlyphs" stroke="#000" stroke-width="0.25">(<tspan font-style="italic">n</tspan> = 10)</text>
<text x="226.88" y="681.4" font-size="12.4" textLength="39.83" lengthAdjust="spacingAndGlyphs" stroke="#000" stroke-width="0.25">(<tspan font-style="italic">n</tspan> = 10)</text>
<text x="228.67" y="642.8" font-size="6.4" textLength="30.71" lengthAdjust="spacingAndGlyphs" fill="#222" stroke="#222" stroke-width="0.15">* p = 0.003</text>
<line x1="333.4" y1="630.6" x2="491.6" y2="630.6" stroke="#c8c8c8" stroke-width="0.9"/>
<line x1="491.6" y1="500.5" x2="491.6" y2="652.4" stroke="#c4c4c4" stroke-width="1.2"/>
<line x1="333.4" y1="652.4" x2="492.20000000000005" y2="652.4" stroke="#c4c4c4" stroke-width="1.2"/>
<line x1="332.9" y1="500.5" x2="492.20000000000005" y2="500.5" stroke="#808080" stroke-width="1.2"/>
<line x1="333.4" y1="499.9" x2="333.4" y2="653.0" stroke="#7a7a7a" stroke-width="1.0"/>
<line x1="330.2" y1="511.2" x2="333.4" y2="511.2" stroke="#7c7c7c" stroke-width="1.0"/>
<text transform="translate(324.6,514.10) scale(1,1.12)" font-size="8.0" text-anchor="end" fill="#1a1a1a" stroke="#1a1a1a" stroke-width="0.32">8</text>
<line x1="330.2" y1="541.1" x2="333.4" y2="541.1" stroke="#7c7c7c" stroke-width="1.0"/>
<text transform="translate(324.6,544.00) scale(1,1.12)" font-size="8.0" text-anchor="end" fill="#1a1a1a" stroke="#1a1a1a" stroke-width="0.32">6</text>
<line x1="330.2" y1="571.0" x2="333.4" y2="571.0" stroke="#7c7c7c" stroke-width="1.0"/>
<text transform="translate(324.6,573.90) scale(1,1.12)" font-size="8.0" text-anchor="end" fill="#1a1a1a" stroke="#1a1a1a" stroke-width="0.32">4</text>
<line x1="330.2" y1="600.8" x2="333.4" y2="600.8" stroke="#7c7c7c" stroke-width="1.0"/>
<text transform="translate(324.6,603.70) scale(1,1.12)" font-size="8.0" text-anchor="end" fill="#1a1a1a" stroke="#1a1a1a" stroke-width="0.32">2</text>
<line x1="330.2" y1="630.6" x2="333.4" y2="630.6" stroke="#7c7c7c" stroke-width="1.0"/>
<text transform="translate(324.6,633.50) scale(1,1.12)" font-size="8.0" text-anchor="end" fill="#1a1a1a" stroke="#1a1a1a" stroke-width="0.32">0</text>
<line x1="357.9" y1="629.2" x2="357.9" y2="635.2" stroke="#8c8c8c" stroke-width="0.9" stroke-dasharray="1.2 1.5"/>
<line x1="352.825" y1="629.2" x2="362.97499999999997" y2="629.2" stroke="#999" stroke-width="1.0"/>
<line x1="357.9" y1="639.2" x2="357.9" y2="641.9" stroke="#8c8c8c" stroke-width="0.9" stroke-dasharray="1.2 1.5"/>
<line x1="352.825" y1="641.9" x2="362.97499999999997" y2="641.9" stroke="#999" stroke-width="1.0"/>
<rect x="349.15" y="635.2" width="17.5" height="4.0" fill="#b5b5b5" stroke="#8e8e8e" stroke-width="1"/>
<line x1="348.65" y1="635.4000000000001" x2="367.15" y2="635.4000000000001" stroke="#7a7a7a" stroke-width="1.3"/>
<line x1="349.15" y1="637.3" x2="366.65" y2="637.3" stroke="#262626" stroke-width="1.6"/>
<text x="354.0" y="627.8000000000001" font-size="5.6" text-anchor="middle" font-weight="bold" fill="#111" stroke="#111" stroke-width="0.7">*</text>
<text x="361.0" y="627.1" font-size="6.2" text-anchor="middle" font-weight="bold" fill="#222" stroke="#222" stroke-width="0.35">#</text>
<line x1="394.4" y1="618.8" x2="394.4" y2="621.8" stroke="#8c8c8c" stroke-width="0.9" stroke-dasharray="1.2 1.5"/>
<line x1="389.325" y1="618.8" x2="399.47499999999997" y2="618.8" stroke="#999" stroke-width="1.0"/>
<rect x="385.65" y="621.8" width="17.5" height="4.900000000000091" fill="#b5b5b5" stroke="#8e8e8e" stroke-width="1"/>
<line x1="385.15" y1="622.0" x2="403.65" y2="622.0" stroke="#7a7a7a" stroke-width="1.3"/>
<line x1="385.65" y1="623.9" x2="403.15" y2="623.9" stroke="#262626" stroke-width="1.6"/>
<circle cx="393.8" cy="645.8" r="1.0" fill="none" stroke="#a0a0a0" stroke-width="0.6"/>
<line x1="431.0" y1="507.8" x2="431.0" y2="511.9" stroke="#8c8c8c" stroke-width="0.9" stroke-dasharray="1.2 1.5"/>
<line x1="425.925" y1="507.8" x2="436.075" y2="507.8" stroke="#999" stroke-width="1.0"/>
<line x1="431.0" y1="547.7" x2="431.0" y2="571.2" stroke="#8c8c8c" stroke-width="0.9" stroke-dasharray="1.2 1.5"/>
<line x1="425.925" y1="571.2" x2="436.075" y2="571.2" stroke="#999" stroke-width="1.0"/>
<rect x="422.25" y="511.9" width="17.5" height="35.80000000000007" fill="#b5b5b5" stroke="#8e8e8e" stroke-width="1"/>
<line x1="421.75" y1="512.1" x2="440.25" y2="512.1" stroke="#7a7a7a" stroke-width="1.3"/>
<line x1="422.25" y1="521.2" x2="439.75" y2="521.2" stroke="#262626" stroke-width="1.6"/>
<text x="430.8" y="507.0" font-size="5.6" text-anchor="middle" font-weight="bold" fill="#111" stroke="#111" stroke-width="0.7">*</text>
<line x1="467.5" y1="505.7" x2="467.5" y2="518.8" stroke="#8c8c8c" stroke-width="0.9" stroke-dasharray="1.2 1.5"/>
<line x1="462.425" y1="505.7" x2="472.575" y2="505.7" stroke="#999" stroke-width="1.0"/>
<rect x="458.75" y="518.8" width="17.5" height="24.300000000000068" fill="#b5b5b5" stroke="#8e8e8e" stroke-width="1"/>
<line x1="458.25" y1="519.0" x2="476.75" y2="519.0" stroke="#7a7a7a" stroke-width="1.3"/>
<line x1="458.75" y1="536.8" x2="476.25" y2="536.8" stroke="#262626" stroke-width="1.6"/>
<text x="467.5" y="504.7" font-size="6.2" text-anchor="middle" font-weight="bold" fill="#222" stroke="#222" stroke-width="0.35">#</text>
<text x="343.16" y="667.2" font-size="12.4" textLength="27.94" lengthAdjust="spacingAndGlyphs" stroke="#000" stroke-width="0.25">SKM</text>
<text x="383.18" y="667.2" font-size="12.4" textLength="19.81" lengthAdjust="spacingAndGlyphs" stroke="#000" stroke-width="0.25">Pre</text>
<text x="417.77" y="667.2" font-size="12.4" textLength="26.58" lengthAdjust="spacingAndGlyphs" stroke="#000" stroke-width="0.25">Prim</text>
<text x="457.82" y="667.2" font-size="12.4" textLength="20.47" lengthAdjust="spacingAndGlyphs" stroke="#000" stroke-width="0.25">Met</text>
<text x="339.15" y="682.8000000000001" font-size="12.4" textLength="34.54" lengthAdjust="spacingAndGlyphs" stroke="#000" stroke-width="0.25">(<tspan font-style="italic">n</tspan> = 5)</text>
<text x="374.25" y="682.8000000000001" font-size="12.4" textLength="34.33" lengthAdjust="spacingAndGlyphs" stroke="#000" stroke-width="0.25">(<tspan font-style="italic">n</tspan> = 5)</text>
<text x="412.66" y="682.8000000000001" font-size="12.4" textLength="34.01" lengthAdjust="spacingAndGlyphs" stroke="#000" stroke-width="0.25">(<tspan font-style="italic">n</tspan> = 6)</text>
<text x="449.27" y="682.8000000000001" font-size="12.4" textLength="33.49" lengthAdjust="spacingAndGlyphs" stroke="#000" stroke-width="0.25">(<tspan font-style="italic">n</tspan> = 4)</text>
<text x="451.67" y="603.0" font-size="6.4" textLength="30.14" lengthAdjust="spacingAndGlyphs" fill="#222" stroke="#222" stroke-width="0.15">* <tspan font-style="italic">P</tspan> &lt;0.001</text>
<text x="450.27" y="613.2" font-size="6.4" textLength="32.03" lengthAdjust="spacingAndGlyphs" fill="#222" stroke="#222" stroke-width="0.15"><tspan font-weight="bold">#</tspan> <tspan font-style="italic">P</tspan> &lt;0.001</text>
<line x1="125.8" y1="806.4" x2="273.0" y2="806.4" stroke="#c8c8c8" stroke-width="0.9"/>
<line x1="273.0" y1="722.7" x2="273.0" y2="874.6" stroke="#c4c4c4" stroke-width="1.2"/>
<line x1="125.8" y1="874.6" x2="273.6" y2="874.6" stroke="#c4c4c4" stroke-width="1.2"/>
<line x1="124.95" y1="722.7" x2="273.6" y2="722.7" stroke="#c0c0c0" stroke-width="1.5"/>
<line x1="125.8" y1="721.95" x2="125.8" y2="875.2" stroke="#c8c8c8" stroke-width="1.7"/>
<line x1="122.6" y1="733.1" x2="125.8" y2="733.1" stroke="#7c7c7c" stroke-width="1.0"/>
<text transform="translate(115.4,736.00) scale(1,1.12)" font-size="8.0" text-anchor="end" fill="#1a1a1a" stroke="#1a1a1a" stroke-width="0.32">6</text>
<line x1="122.6" y1="757.5" x2="125.8" y2="757.5" stroke="#7c7c7c" stroke-width="1.0"/>
<text transform="translate(115.4,760.40) scale(1,1.12)" font-size="8.0" text-anchor="end" fill="#1a1a1a" stroke="#1a1a1a" stroke-width="0.32">4</text>
<line x1="122.6" y1="782.0" x2="125.8" y2="782.0" stroke="#7c7c7c" stroke-width="1.0"/>
<text transform="translate(115.4,784.90) scale(1,1.12)" font-size="8.0" text-anchor="end" fill="#1a1a1a" stroke="#1a1a1a" stroke-width="0.32">2</text>
<line x1="122.6" y1="806.4" x2="125.8" y2="806.4" stroke="#7c7c7c" stroke-width="1.0"/>
<text transform="translate(115.4,809.30) scale(1,1.12)" font-size="8.0" text-anchor="end" fill="#1a1a1a" stroke="#1a1a1a" stroke-width="0.32">0</text>
<line x1="122.6" y1="830.6" x2="125.8" y2="830.6" stroke="#7c7c7c" stroke-width="1.0"/>
<text transform="translate(115.4,833.50) scale(1,1.12)" font-size="8.0" text-anchor="end" fill="#1a1a1a" stroke="#1a1a1a" stroke-width="0.32">-2</text>
<line x1="122.6" y1="854.9" x2="125.8" y2="854.9" stroke="#7c7c7c" stroke-width="1.0"/>
<text transform="translate(115.4,857.80) scale(1,1.12)" font-size="8.0" text-anchor="end" fill="#1a1a1a" stroke="#1a1a1a" stroke-width="0.32">-4</text>
<line x1="143.14999999999998" y1="824.5" x2="165.24999999999997" y2="824.5" stroke="#262626" stroke-width="1.6"/>
<line x1="199.45" y1="755.0" x2="199.45" y2="766.7" stroke="#8c8c8c" stroke-width="0.9" stroke-dasharray="1.2 1.5"/>
<line x1="193.041" y1="755.0" x2="205.85899999999998" y2="755.0" stroke="#999" stroke-width="1.0"/>
<line x1="199.45" y1="839.2" x2="199.45" y2="869.1" stroke="#8c8c8c" stroke-width="0.9" stroke-dasharray="1.2 1.5"/>
<line x1="193.041" y1="869.1" x2="205.85899999999998" y2="869.1" stroke="#999" stroke-width="1.0"/>
<rect x="188.39999999999998" y="766.7" width="22.1" height="72.5" fill="#b5b5b5" stroke="#8e8e8e" stroke-width="1"/>
<line x1="187.89999999999998" y1="766.9000000000001" x2="210.99999999999997" y2="766.9000000000001" stroke="#7a7a7a" stroke-width="1.3"/>
<line x1="188.39999999999998" y1="797.0" x2="210.49999999999997" y2="797.0" stroke="#262626" stroke-width="1.6"/>
<line x1="244.5" y1="728.8" x2="244.5" y2="770.7" stroke="#8c8c8c" stroke-width="0.9" stroke-dasharray="1.2 1.5"/>
<line x1="238.091" y1="728.8" x2="250.909" y2="728.8" stroke="#999" stroke-width="1.0"/>
<line x1="244.5" y1="826.9" x2="244.5" y2="868.5" stroke="#8c8c8c" stroke-width="0.9" stroke-dasharray="1.2 1.5"/>
<line x1="238.091" y1="868.5" x2="250.909" y2="868.5" stroke="#999" stroke-width="1.0"/>
<rect x="233.45" y="770.7" width="22.1" height="56.19999999999993" fill="#b5b5b5" stroke="#8e8e8e" stroke-width="1"/>
<line x1="232.95" y1="770.9000000000001" x2="256.04999999999995" y2="770.9000000000001" stroke="#7a7a7a" stroke-width="1.3"/>
<line x1="233.45" y1="785.5" x2="255.54999999999998" y2="785.5" stroke="#262626" stroke-width="1.6"/>
<text x="136.55" y="892.6" font-size="12.4" textLength="28.36" lengthAdjust="spacingAndGlyphs" stroke="#000" stroke-width="0.25">SKM</text>
<text x="180.50" y="892.6" font-size="12.4" textLength="36.12" lengthAdjust="spacingAndGlyphs" stroke="#000" stroke-width="0.25">ARMS</text>
<text x="227.78" y="892.6" font-size="12.4" textLength="36.95" lengthAdjust="spacingAndGlyphs" stroke="#000" stroke-width="0.25">ERMS</text>
<text x="135.34" y="907.4" font-size="12.4" textLength="34.85" lengthAdjust="spacingAndGlyphs" stroke="#000" stroke-width="0.25">(<tspan font-style="italic">n</tspan> = 4)</text>
<text x="179.33" y="907.4" font-size="12.4" textLength="35.58" lengthAdjust="spacingAndGlyphs" stroke="#000" stroke-width="0.25">(<tspan font-style="italic">n</tspan> = 8)</text>
<text x="227.46" y="907.4" font-size="12.4" textLength="34.22" lengthAdjust="spacingAndGlyphs" stroke="#000" stroke-width="0.25">(<tspan font-style="italic">n</tspan> = 8)</text>
<line x1="333.4" y1="767.0" x2="491.7" y2="767.0" stroke="#c8c8c8" stroke-width="0.9"/>
<line x1="491.7" y1="723.1" x2="491.7" y2="875.2" stroke="#c4c4c4" stroke-width="1.2"/>
<line x1="333.4" y1="875.2" x2="492.3" y2="875.2" stroke="#c4c4c4" stroke-width="1.2"/>
<line x1="332.84999999999997" y1="723.1" x2="492.3" y2="723.1" stroke="#c8c8c8" stroke-width="1.3"/>
<line x1="333.4" y1="722.45" x2="333.4" y2="875.8000000000001" stroke="#7a7a7a" stroke-width="1.1"/>
<line x1="330.2" y1="737.3" x2="333.4" y2="737.3" stroke="#7c7c7c" stroke-width="1.0"/>
<text transform="translate(325.4,740.20) scale(1,1.12)" font-size="8.0" text-anchor="end" fill="#1a1a1a" stroke="#1a1a1a" stroke-width="0.32">2</text>
<line x1="330.2" y1="767.0" x2="333.4" y2="767.0" stroke="#7c7c7c" stroke-width="1.0"/>
<text transform="translate(325.4,769.90) scale(1,1.12)" font-size="8.0" text-anchor="end" fill="#1a1a1a" stroke="#1a1a1a" stroke-width="0.32">0</text>
<line x1="330.2" y1="796.6" x2="333.4" y2="796.6" stroke="#7c7c7c" stroke-width="1.0"/>
<text transform="translate(325.4,799.50) scale(1,1.12)" font-size="8.0" text-anchor="end" fill="#1a1a1a" stroke="#1a1a1a" stroke-width="0.32">-2</text>
<line x1="330.2" y1="826.3" x2="333.4" y2="826.3" stroke="#7c7c7c" stroke-width="1.0"/>
<text transform="translate(325.4,829.20) scale(1,1.12)" font-size="8.0" text-anchor="end" fill="#1a1a1a" stroke="#1a1a1a" stroke-width="0.32">-4</text>
<line x1="330.2" y1="855.6" x2="333.4" y2="855.6" stroke="#7c7c7c" stroke-width="1.0"/>
<text transform="translate(325.4,858.50) scale(1,1.12)" font-size="8.0" text-anchor="end" fill="#1a1a1a" stroke="#1a1a1a" stroke-width="0.32">-6</text>
<line x1="357.9" y1="834.2" x2="357.9" y2="842.2" stroke="#8c8c8c" stroke-width="0.9" stroke-dasharray="1.2 1.5"/>
<line x1="352.825" y1="834.2" x2="362.97499999999997" y2="834.2" stroke="#999" stroke-width="1.0"/>
<rect x="349.15" y="842.2" width="17.5" height="6.399999999999977" fill="#b5b5b5" stroke="#8e8e8e" stroke-width="1"/>
<line x1="348.65" y1="842.4000000000001" x2="367.15" y2="842.4000000000001" stroke="#7a7a7a" stroke-width="1.3"/>
<line x1="349.15" y1="848.0" x2="366.65" y2="848.0" stroke="#262626" stroke-width="1.6"/>
<circle cx="357.5" cy="868.8" r="1.0" fill="none" stroke="#a0a0a0" stroke-width="0.6"/>
<text x="357.5" y="831.3" font-size="6.2" text-anchor="middle" font-weight="bold" fill="#222" stroke="#222" stroke-width="0.35">#</text>
<line x1="394.4" y1="833.9" x2="394.4" y2="837.6" stroke="#8c8c8c" stroke-width="0.9" stroke-dasharray="1.2 1.5"/>
<line x1="389.325" y1="833.9" x2="399.47499999999997" y2="833.9" stroke="#999" stroke-width="1.0"/>
<line x1="394.4" y1="855.7" x2="394.4" y2="860.7" stroke="#8c8c8c" stroke-width="0.9" stroke-dasharray="1.2 1.5"/>
<line x1="389.325" y1="860.7" x2="399.47499999999997" y2="860.7" stroke="#999" stroke-width="1.0"/>
<rect x="385.65" y="837.6" width="17.5" height="18.100000000000023" fill="#b5b5b5" stroke="#8e8e8e" stroke-width="1"/>
<line x1="385.15" y1="837.8000000000001" x2="403.65" y2="837.8000000000001" stroke="#7a7a7a" stroke-width="1.3"/>
<line x1="385.65" y1="846.1" x2="403.15" y2="846.1" stroke="#262626" stroke-width="1.6"/>
<line x1="431.0" y1="781.5" x2="431.0" y2="800.5" stroke="#8c8c8c" stroke-width="0.9" stroke-dasharray="1.2 1.5"/>
<line x1="425.925" y1="781.5" x2="436.075" y2="781.5" stroke="#999" stroke-width="1.0"/>
<line x1="431.0" y1="835.8" x2="431.0" y2="845.5" stroke="#8c8c8c" stroke-width="0.9" stroke-dasharray="1.2 1.5"/>
<line x1="425.925" y1="845.5" x2="436.075" y2="845.5" stroke="#999" stroke-width="1.0"/>
<rect x="422.25" y="800.5" width="17.5" height="35.299999999999955" fill="#b5b5b5" stroke="#8e8e8e" stroke-width="1"/>
<line x1="421.75" y1="800.7" x2="440.25" y2="800.7" stroke="#7a7a7a" stroke-width="1.3"/>
<line x1="422.25" y1="814.5" x2="439.75" y2="814.5" stroke="#262626" stroke-width="1.6"/>
<line x1="467.5" y1="728.5" x2="467.5" y2="760.0" stroke="#8c8c8c" stroke-width="0.9" stroke-dasharray="1.2 1.5"/>
<line x1="462.425" y1="728.5" x2="472.575" y2="728.5" stroke="#999" stroke-width="1.0"/>
<line x1="467.5" y1="803.5" x2="467.5" y2="814.5" stroke="#8c8c8c" stroke-width="0.9" stroke-dasharray="1.2 1.5"/>
<line x1="462.425" y1="814.5" x2="472.575" y2="814.5" stroke="#999" stroke-width="1.0"/>
<rect x="458.75" y="760.0" width="17.5" height="43.5" fill="#b5b5b5" stroke="#8e8e8e" stroke-width="1"/>
<line x1="458.25" y1="760.2" x2="476.75" y2="760.2" stroke="#7a7a7a" stroke-width="1.3"/>
<line x1="458.75" y1="792.0" x2="476.25" y2="792.0" stroke="#262626" stroke-width="1.6"/>
<text x="467.5" y="727.5" font-size="6.2" text-anchor="middle" font-weight="bold" fill="#222" stroke="#222" stroke-width="0.35">#</text>
<text x="343.55" y="889.4" font-size="12.4" textLength="28.36" lengthAdjust="spacingAndGlyphs" stroke="#000" stroke-width="0.25">SKM</text>
<text x="385.09" y="889.4" font-size="12.4" textLength="19.70" lengthAdjust="spacingAndGlyphs" stroke="#000" stroke-width="0.25">Pre</text>
<text x="417.77" y="889.4" font-size="12.4" textLength="26.58" lengthAdjust="spacingAndGlyphs" stroke="#000" stroke-width="0.25">Prim</text>
<text x="456.18" y="889.4" font-size="12.4" textLength="21.31" lengthAdjust="spacingAndGlyphs" stroke="#000" stroke-width="0.25">Met</text>
<text x="339.16" y="904.3" font-size="12.4" textLength="34.01" lengthAdjust="spacingAndGlyphs" stroke="#000" stroke-width="0.25">(<tspan font-style="italic">n</tspan> = 5)</text>
<text x="376.04" y="904.3" font-size="12.4" textLength="34.85" lengthAdjust="spacingAndGlyphs" stroke="#000" stroke-width="0.25">(<tspan font-style="italic">n</tspan> = 4)</text>
<text x="412.35" y="904.3" font-size="12.4" textLength="34.33" lengthAdjust="spacingAndGlyphs" stroke="#000" stroke-width="0.25">(<tspan font-style="italic">n</tspan> = 6)</text>
<text x="447.23" y="904.3" font-size="12.4" textLength="35.58" lengthAdjust="spacingAndGlyphs" stroke="#000" stroke-width="0.25">(<tspan font-style="italic">n</tspan> = 3)</text>
<text x="450.77" y="864.9" font-size="6.4" textLength="32.96" lengthAdjust="spacingAndGlyphs" fill="#222" stroke="#222" stroke-width="0.15"><tspan font-weight="bold">#</tspan> p = 0.003</text>
<text transform="translate(100.9,131.4) rotate(-90)" font-size="12.85" text-anchor="middle" fill="#000" stroke="#000" stroke-width="0.25">Log2 (expression)</text>
<text transform="translate(309.4,129.85) rotate(-90)" font-size="12.85" text-anchor="middle" fill="#000" stroke="#000" stroke-width="0.25">Log2 (expression)</text>
<text transform="translate(100.9,347.1) rotate(-90)" font-size="12.85" text-anchor="middle" fill="#000" stroke="#000" stroke-width="0.25">Log2 (expression)</text>
<text transform="translate(309.4,351.45) rotate(-90)" font-size="12.85" text-anchor="middle" fill="#000" stroke="#000" stroke-width="0.25">Log2 (expression)</text>
<text transform="translate(100.9,579.1) rotate(-90)" font-size="12.85" text-anchor="middle" fill="#000" stroke="#000" stroke-width="0.25">Log2 (expression)</text>
<text transform="translate(309.4,569.25) rotate(-90)" font-size="12.85" text-anchor="middle" fill="#000" stroke="#000" stroke-width="0.25">Log2 (expression)</text>
<text transform="translate(98.5,791.05) rotate(-90)" font-size="12.85" text-anchor="middle" fill="#000" stroke="#000" stroke-width="0.25">Log2 (expression)</text>
<text transform="translate(309.4,791.85) rotate(-90)" font-size="12.85" text-anchor="middle" fill="#000" stroke="#000" stroke-width="0.25">Log2 (expression)</text>
<text transform="translate(73.0,140.0) rotate(-90)" font-size="23.2" text-anchor="middle" fill="#000" stroke="#000" stroke-width="0.25">IL-4R</text>
<text transform="translate(45.2,366.0) rotate(-90)" font-size="22.9" text-anchor="middle" fill="#000" stroke="#000" stroke-width="0.25">Common</text>
<text transform="translate(73.2,365.8) rotate(-90)" font-size="23.0" text-anchor="middle" fill="#000" stroke="#000" stroke-width="0.25">γ chain</text>
<text transform="translate(72.4,580.6) rotate(-90)" font-size="22.6" text-anchor="middle" fill="#000" stroke="#000" stroke-width="0.25">IL-13Rα1</text>
<text transform="translate(71.6,807.7) rotate(-90)" font-size="22.9" text-anchor="middle" fill="#000" stroke="#000" stroke-width="0.25">IL-4 C</text>
<text transform="translate(41.0,49.3) scale(1.02,1.07)" font-size="26.5" text-anchor="middle" font-weight="bold" stroke="#000" stroke-width="0.35">A</text>
<text transform="translate(303.6,49.0) scale(0.98,1.07)" font-size="26.5" text-anchor="middle" font-weight="bold" stroke="#000" stroke-width="0.35">B</text>
<text transform="translate(203.0,46.4) scale(1.057,1)" font-size="17" text-anchor="middle" stroke="#000" stroke-width="0.25">Human</text>
<text transform="translate(412.3,48.7) scale(1.02,1)" font-size="17.8" text-anchor="middle" stroke="#000" stroke-width="0.25">Mouse (ARMS)</text>
<rect x="1.3" y="1.4" width="517.2" height="936.2" fill="none" stroke="#6b6b6b" stroke-width="2.8"/>
</svg>
</body></html>
